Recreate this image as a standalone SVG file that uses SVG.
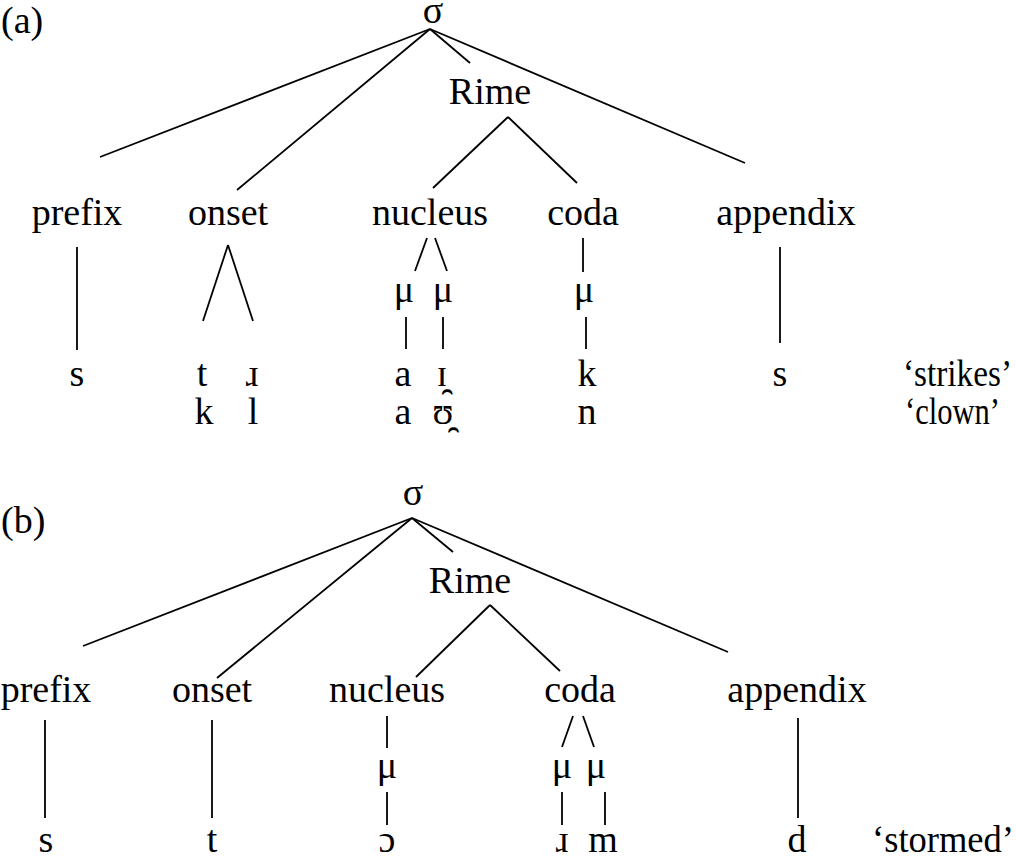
<svg xmlns="http://www.w3.org/2000/svg" width="1016" height="856" viewBox="0 0 1016 856">
<style>
text{font-family:"Liberation Serif","DejaVu Serif",serif;font-size:38px;fill:#000;text-anchor:middle}
.l{text-anchor:start}
#connectors line{stroke:#000;stroke-width:1.8;stroke-linecap:butt}
</style>
<rect width="1016" height="856" fill="#fff"/>
<g id="connectors">
<line x1="430" y1="29" x2="100" y2="157"/>
<line x1="430" y1="29" x2="237" y2="190"/>
<line x1="430" y1="29" x2="470" y2="63"/>
<line x1="430" y1="29" x2="745" y2="163"/>
<line x1="508" y1="117" x2="433" y2="188"/>
<line x1="508" y1="117" x2="577" y2="183"/>
<line x1="77" y1="247" x2="77" y2="350"/>
<line x1="228" y1="245" x2="203" y2="321"/>
<line x1="228" y1="245" x2="253" y2="321"/>
<line x1="427" y1="238" x2="415" y2="271"/>
<line x1="435" y1="238" x2="447" y2="271"/>
<line x1="406" y1="317" x2="406" y2="349"/>
<line x1="443" y1="317" x2="443" y2="349"/>
<line x1="583" y1="238" x2="583" y2="272"/>
<line x1="586" y1="317" x2="586" y2="349"/>
<line x1="780" y1="247" x2="780" y2="343"/>
<line x1="412" y1="518" x2="83" y2="646"/>
<line x1="412" y1="518" x2="217" y2="678"/>
<line x1="412" y1="518" x2="453" y2="552"/>
<line x1="412" y1="518" x2="728" y2="652"/>
<line x1="490" y1="605" x2="416" y2="677"/>
<line x1="490" y1="605" x2="560" y2="671"/>
<line x1="45" y1="720" x2="45" y2="818"/>
<line x1="212" y1="720" x2="212" y2="818"/>
<line x1="387" y1="716" x2="387" y2="748"/>
<line x1="387" y1="792" x2="387" y2="825"/>
<line x1="573" y1="716" x2="562" y2="747"/>
<line x1="583" y1="716" x2="594" y2="747"/>
<line x1="562" y1="792" x2="562" y2="825"/>
<line x1="605" y1="792" x2="605" y2="825"/>
<line x1="798" y1="718" x2="798" y2="818"/>
</g>
<g id="label-a"><text class="l" x="1" y="33">(a)</text></g>
<g id="a-sigma"><text x="433" y="23">σ</text></g>
<g id="a-rime"><text x="490" y="104">Rime</text></g>
<g id="a-prefix"><text x="77" y="225">prefix</text></g>
<g id="a-onset"><text x="228" y="225">onset</text></g>
<g id="a-nucleus"><text x="430" y="225">nucleus</text></g>
<g id="a-coda"><text x="583" y="225">coda</text></g>
<g id="a-appendix"><text x="786" y="225">appendix</text></g>
<g id="a-mu1"><text x="404" y="302">μ</text></g>
<g id="a-mu2"><text x="443" y="302">μ</text></g>
<g id="a-mu3"><text x="584" y="302">μ</text></g>
<g id="a-leaves1">
<text x="77" y="386">s</text>
<text x="202" y="386">t</text>
<text x="252" y="386">ɹ</text>
<text x="403" y="386">a</text>
<text x="442" y="386">ɪ̯</text>
<text x="587" y="386">k</text>
<text x="780" y="386">s</text>
<text class="l" x="903" y="386" textLength="109" lengthAdjust="spacingAndGlyphs">‘strikes’</text>
</g>
<g id="a-leaves2">
<text x="204" y="424">k</text>
<text x="253" y="424">l</text>
<text x="403" y="424">a</text>
<text x="443" y="424">ʊ̯</text>
<text x="587" y="424">n</text>
<text class="l" x="905" y="424" textLength="95" lengthAdjust="spacingAndGlyphs">‘clown’</text>
</g>
<g id="label-b"><text class="l" x="1" y="533">(b)</text></g>
<g id="b-sigma"><text x="413" y="505">σ</text></g>
<g id="b-rime"><text x="470" y="593">Rime</text></g>
<g id="b-prefix"><text x="46" y="702">prefix</text></g>
<g id="b-onset"><text x="212" y="702">onset</text></g>
<g id="b-nucleus"><text x="387" y="702">nucleus</text></g>
<g id="b-coda"><text x="580" y="702">coda</text></g>
<g id="b-appendix"><text x="797" y="702">appendix</text></g>
<g id="b-mu1"><text x="387" y="778">μ</text></g>
<g id="b-mu2"><text x="562" y="778">μ</text></g>
<g id="b-mu3"><text x="596" y="778">μ</text></g>
<g id="b-leaves">
<text x="46" y="852">s</text>
<text x="212" y="852">t</text>
<text x="387" y="852">ɔ</text>
<text x="562" y="852">ɹ</text>
<text x="603" y="852">m</text>
<text x="797" y="852">d</text>
<text class="l" x="872" y="852" textLength="142" lengthAdjust="spacingAndGlyphs">‘stormed’</text>
</g>
</svg>
